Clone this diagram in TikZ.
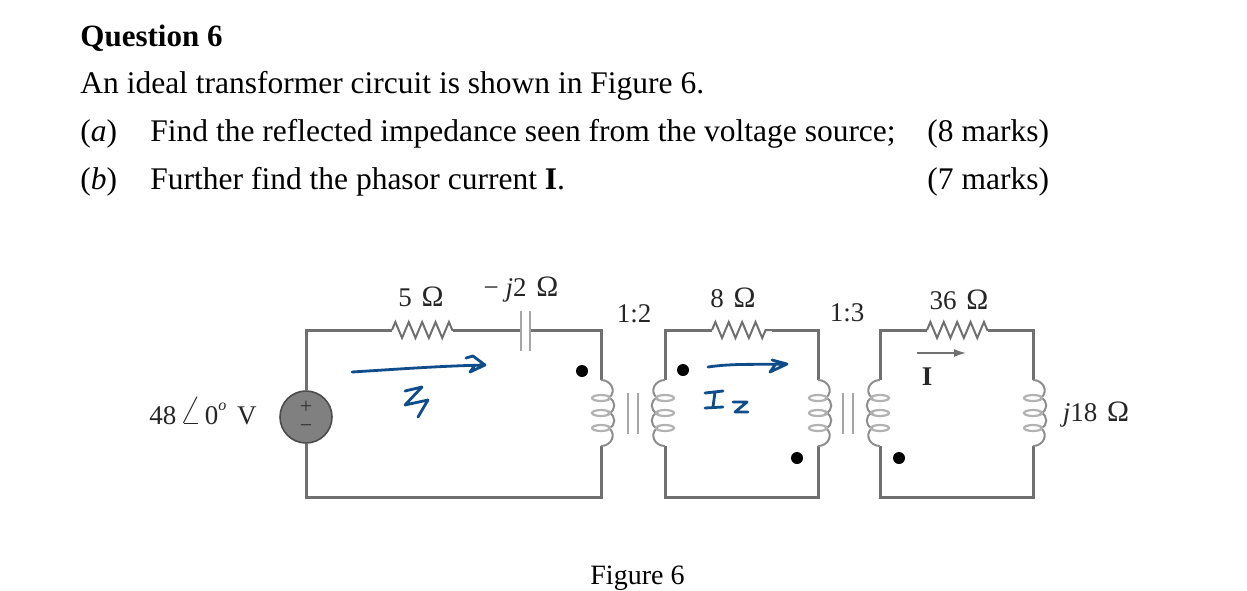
\documentclass[tikz,border=0pt]{standalone}
\usepackage{fontspec}
\setmainfont{Liberation Serif}
\usetikzlibrary{decorations.pathmorphing,arrows.meta}
\definecolor{wirec}{HTML}{707070}
\definecolor{inkc}{HTML}{0F4C8A}
\newcommand\Ohm{\hspace{.36em}{\fontsize{14.8}{16}\selectfont Ω}}
\tikzset{
txt/.style={anchor=base west,inner sep=0,font=\fontsize{15.75}{18}\selectfont},
val/.style={inner sep=0,text=black!85,font=\fontsize{13.5}{16}\selectfont},
wire/.style={draw=wirec,line width=1.5pt},
res/.style={draw=wirec,line width=1pt,decorate,decoration={zigzag,amplitude=4pt,segment length=6.7pt}},
plate/.style={draw=black!35,line width=1.1pt},
ink/.style={draw=inkc,line width=1.4pt,line cap=round,line join=round},
blob/.style={circle,fill=black,inner sep=0,minimum size=6pt},
pics/coil/.style={code={
\draw[draw=wirec!80,line width=1pt](0,-33)..controls(10,-33)and(16,-22)..(8,-15)
	..controls(15,-13)and(15,-2)..(8,0)
	..controls(15,2)and(15,13)..(8,15)
	..controls(16,22)and(10,33)..(0,33);
\foreach\d in{-15,0,15}\draw[draw=black!30,line width=1.1pt](0,\d)ellipse[x radius=9,y radius=3];
}}
}
\begin{document}
\begin{tikzpicture}[x=.5pt,y=-.5pt]
\useasboundingbox(0,0)rectangle(1247,590);
% question text
\node[txt,font=\fontsize{15.5}{18}\selectfont\bfseries](title)at(80,46){Question 6};
\node[txt](intro)at(80,93){An ideal transformer circuit is shown in Figure 6.};
\node[txt](parta)at(80,141){(\textit{a})};
\node[txt](texta)at(150,141){Find the reflected impedance seen from the voltage source;};
\node[txt](marka)at(927,141){(8 marks)};
\node[txt](partb)at(80,189){(\textit{b})};
\node[txt](textb)at(150,189){Further find the phasor current \textbf{I}.};
\node[txt](markb)at(927,189){(7 marks)};
\node[txt,font=\fontsize{14}{16}\selectfont](caption)at(590,584){Figure 6};
% corners
\coordinate(a4)at(306,497);\coordinate(b4)at(665,497);\coordinate(c4)at(880,497);
\coordinate(r1)at(392,330);\coordinate(r1e)at(453,330);
\coordinate(r2)at(712,330);\coordinate(r2e)at(772,330);
\coordinate(r3)at(927,330);\coordinate(r3e)at(988,330);
\coordinate(k1)at(521,330);\coordinate(k2)at(530,330);
\coordinate(la)at(601,380);\coordinate(lae)at(601,446);
\coordinate(lb)at(665,380);\coordinate(lbe)at(665,446);
\coordinate(lc)at(818,380);\coordinate(lce)at(818,446);
\coordinate(ld)at(880,380);\coordinate(lde)at(880,446);
\coordinate(le)at(1033,380);\coordinate(lee)at(1033,446);
% source
\node[circle,draw=black!70,fill=black!50,line width=.8pt,minimum size=26pt,inner sep=0](vs)at(306,417){};
\node[inner sep=0,font=\fontsize{11}{11}\selectfont,text=black!80](plus)at(306,407){+};
\node[inner sep=0,font=\fontsize{11}{11}\selectfont,text=black!80](minus)at(306,429){−};
% wires
\draw[wire](vs)|-(r1)(r1e)--(k1)(k2)-|(la)(lae)|-(a4)--(vs);
\draw[wire](lb)|-(r2)(r2e)-|(lc)(lce)|-(b4)--(lbe);
\draw[wire](ld)|-(r3)(r3e)-|(le)(lee)|-(c4)--(lde);
\draw[res](r1)--(r1e);
\draw[res](r2)--(r2e);
\draw[res](r3)--(r3e);
\draw[plate](521,311)--(521,351)(530,311)--(530,351);
\foreach\x in{628,638,843,853}\draw[plate](\x,393)--(\x,434);
\pic at(601,413){coil};
\pic[xscale=-1]at(665,413){coil};
\pic at(818,413){coil};
\pic[xscale=-1]at(880,413){coil};
\pic at(1033,413){coil};
% dots
\node[blob](d1)at(582,371){};
\node[blob](d2)at(683,370){};
\node[blob](d3)at(797,458){};
\node[blob](d4)at(899,458){};
% labels
\node[val,anchor=base](v)at(203,424){48\hspace{.12em}{\fontsize{20}{20}\selectfont$\angle$}\hspace{.1em}0\raisebox{.5em}{\fontsize{8}{8}\selectfont\textit{o}}\hspace{.4em}V};
\node[val](l5)at(421,297){5\Ohm};
\node[val](lc2)at(521,290){−\hspace{.25em}\textit{j}2\Ohm};
\node[val](n12)at(634,314){1:2};
\node[val](l8)at(733,298){8\Ohm};
\node[val](n13)at(847,313){1:3};
\node[val](l36)at(959,300){36\Ohm};
\node[val](l18)at(1096,415){\textit{j}18\Ohm};
\node[val,font=\fontsize{13.5}{16}\selectfont\bfseries](cur)at(927,377){I};
\coordinate(ia)at(917,353);\coordinate(ib)at(966,353);
\draw[draw=wirec,line width=.8pt,-{Latex[length=6pt,width=4pt]}](ia)--(ib);
% pen marks
\draw[ink](352,372)..controls(400,369)and(440,366)..(485,365)(466,358)--(473,356)--(485,365)--(470,372)--(475,365);
\draw[ink](405,391)--(422,387)--(405,405)--(428,400)--(418,417);
\draw[ink](708,367)..controls(735,363)and(760,365)..(787,364)(772,360)--(787,364)--(770,372)--(775,365);
\draw[ink](705,393)--(723,391)(715,392)--(713,407)(705,408)--(723,407);
\draw[ink](733,402)--(747,402)--(735,412)--(748,412);
\end{tikzpicture}
\end{document}
